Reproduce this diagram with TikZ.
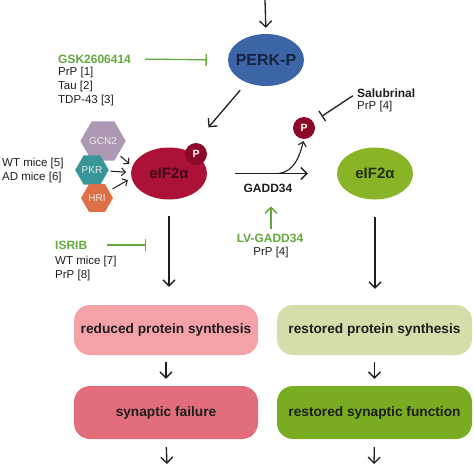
\documentclass[tikz,border=0pt]{standalone}
\usepackage{fontspec}
\setmainfont{Liberation Sans}
\usetikzlibrary{arrows.meta, shapes.geometric}
\definecolor{perkblue}{RGB}{60,101,166}
\definecolor{perkink}{RGB}{22,34,64}
\definecolor{eifred}{RGB}{172,18,56}
\definecolor{eifredink}{RGB}{62,8,22}
\definecolor{phosred}{RGB}{140,8,40}
\definecolor{eifgreen}{RGB}{138,180,40}
\definecolor{eifgreenink}{RGB}{34,48,12}
\definecolor{druggreen}{RGB}{98,168,60}
\definecolor{gcngrey}{RGB}{172,152,178}
\definecolor{pkrteal}{RGB}{56,150,152}
\definecolor{hriorange}{RGB}{222,112,72}
\definecolor{redpale}{RGB}{244,162,168}
\definecolor{reddeep}{RGB}{226,110,124}
\definecolor{greenpale}{RGB}{211,222,170}
\definecolor{greendeep}{RGB}{122,172,34}
\definecolor{inkgrey}{RGB}{30,30,30}

\begin{document}
\begin{tikzpicture}[x=1pt, y=-1pt,
        bigarrow/.style={line width=1.3pt, inkgrey, -{Straight Barb[length=6pt,width=12pt]}},
        smallarrow/.style={line width=1pt, inkgrey, -{Straight Barb[length=4pt,width=8pt]}},
        inhib/.style={line width=1.3pt, -{Bar[width=12pt]}},
        molecule/.style={ellipse, minimum width=76pt, minimum height=52pt},
        phos/.style={circle, fill=phosred, minimum size=22pt, inner sep=0pt, text=white, font=\fontsize{10.5}{12}\selectfont\bfseries},
        kinase/.style={regular polygon, regular polygon sides=6, minimum size=32pt, inner sep=0pt, text=white!92!black, font=\fontsize{10}{12}\selectfont},
        stagebox/.style={rounded corners=16pt, minimum height=50pt, inner sep=0pt, text=inkgrey, font=\fontsize{13.7}{16}\selectfont\bfseries},
        reftext/.style={inner sep=0pt, align=left, text=inkgrey, font=\fontsize{11.5}{14}\selectfont},
        drugtext/.style={inner sep=0pt, text=druggreen, font=\fontsize{12}{14}\selectfont\bfseries}]
    \useasboundingbox (0,0) rectangle (474,474);
    \coordinate (PerkIn)   at (265,0);
    \coordinate (HexHub)   at (140,173);
    \coordinate (Split)    at (278,173.5);
    \coordinate (IsribEnd) at (146,245);
    \coordinate (LeftEnd)  at (167,464);
    \coordinate (RightEnd) at (374,464);

    % molecules
    \node[molecule, fill=perkblue, label={[font=\fontsize{16}{18}\selectfont\bfseries, text=perkink]center:PERK-P}] (PERK) at (266,60) {};
    \node[molecule, fill=eifred, label={[font=\fontsize{15}{18}\selectfont\bfseries, text=eifredink]center:eIF2α}] (eIFp) at (169,173.5) {};
    \node[phos] (Pone) at (196,154) {P};
    \node[molecule, fill=eifgreen, label={[font=\fontsize{15}{18}\selectfont\bfseries, text=eifgreenink]center:eIF2α}] (eIFg) at (375,173.5) {};
    \node[phos] (Ptwo) at (304,128) {P};

    % kinases
    \node[kinase, fill=gcngrey]   (GCN) at (103,141) {GCN2};
    \node[kinase, fill=pkrteal]   (PKR) at (92,170) {PKR};
    \node[kinase, fill=hriorange] (HRI) at (97,198) {HRI};

    % outcome boxes
    \node[stagebox, fill=redpale,    minimum width=184pt] (Reduced)  at (166,330) {reduced protein synthesis};
    \node[stagebox, fill=reddeep,    minimum width=184pt, minimum height=53pt] (Failure)  at (166,412.5) {synaptic failure};
    \node[stagebox, fill=greenpale,  minimum width=195pt] (Restored) at (374.5,330) {restored protein synthesis};
    \node[stagebox, fill=greendeep,  minimum width=195pt, minimum height=53pt] (Function) at (374.5,412.5) {restored synaptic function};

    % texts
    \node[drugtext, anchor=west] (GSK) at (58,59) {GSK2606414};
    \node[reftext, anchor=west] (GSKref) at (58,86.5) {PrP [1]\\Tau [2]\\TDP-43 [3]};
    \node[reftext, anchor=west] (Mice) at (2,171) {WT mice [5]\\AD mice [6]};
    \node[drugtext, anchor=west] (ISRIB) at (55,245) {ISRIB};
    \node[reftext, anchor=west] (ISRIBref) at (55,269) {WT mice [7]\\PrP [8]};
    \node[drugtext, anchor=west, text=inkgrey] (Salu) at (357,93) {Salubrinal};
    \node[reftext, anchor=west] (Saluref) at (357,107) {PrP [4]};
    \node[drugtext, text=inkgrey] (GADD) at (268,188) {GADD34};
    \node[drugtext] (LVG) at (270,238) {LV-GADD34};
    \node[reftext] (LVGref) at (271,253) {PrP [4]};

    % arrows
    \draw[bigarrow, shorten >=6pt] (PerkIn) -- (PERK.north);
    \draw[bigarrow, shorten <=10pt, shorten >=31pt] (PERK) -- (eIFp);
    \draw[smallarrow, shorten <=3pt, shorten >=14pt] (GCN) -- (HexHub);
    \draw[smallarrow, shorten <=2pt, shorten >=14pt] (PKR) -- (HexHub);
    \draw[smallarrow, shorten <=4pt, shorten >=14pt] (HRI) -- (HexHub);
    \draw[bigarrow, shorten <=28pt, shorten >=29pt] (eIFp) -- (eIFg);
    \draw[smallarrow, line width=1.1pt, shorten >=2pt] (Split) to[out=5, in=-105] (Ptwo.south);
    \draw[bigarrow, druggreen, shorten <=5pt, shorten >=14pt] (LVG.north -| LVGref) -- (GADD.south -| LVGref);
    \draw[bigarrow, shorten <=16pt, shorten >=18pt] (eIFp.south) -- (eIFp.south |- Reduced.north);
    \draw[bigarrow, shorten <=17pt, shorten >=16pt] (eIFg.south) -- (eIFg.south |- Restored.north);
    \draw[bigarrow, shorten <=7pt, shorten >=7pt] (Reduced.south) -- (Failure.north);
    \draw[bigarrow, shorten <=7pt, shorten >=7pt] (Restored.south) -- (Function.north);
    \draw[bigarrow, shorten <=8pt] (Failure.south) -- (LeftEnd);
    \draw[bigarrow, shorten <=8pt] (Function.south) -- (RightEnd);

    % inhibitions
    \draw[inhib, druggreen, shorten <=14pt, shorten >=21pt] (GSK.east) -- (PERK.west);
    \draw[inhib, druggreen, shorten <=20pt] (ISRIB.east) -- (IsribEnd);
    \draw[inhib, inkgrey, shorten <=5pt, shorten >=10pt] (Salu.west) -- (Ptwo);
\end{tikzpicture}
\end{document}
